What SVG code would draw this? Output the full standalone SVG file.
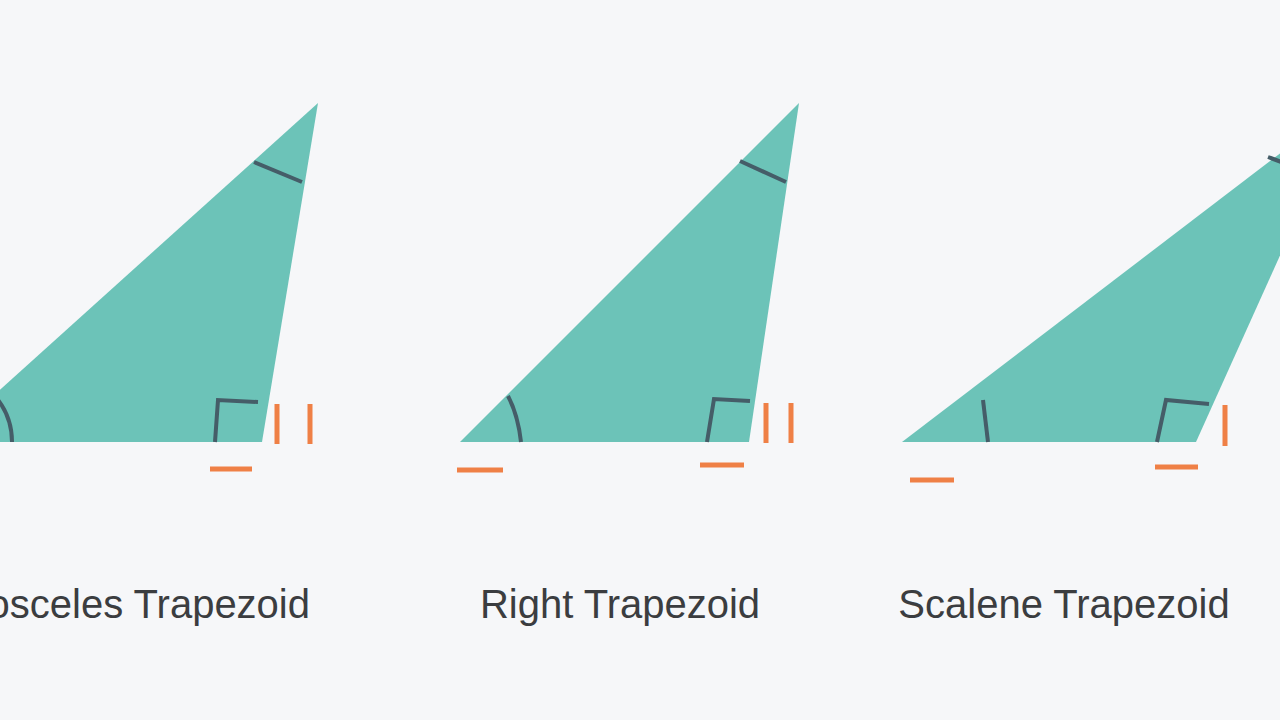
<svg xmlns="http://www.w3.org/2000/svg" width="1280" height="720" viewBox="0 0 1280 720">
  <style>
    .shape { fill: #6cc3b8; }
    .mark { fill: none; stroke: #455d68; stroke-width: 4; stroke-linecap: butt; stroke-linejoin: miter; }
    .tick { fill: none; stroke: #ef8046; stroke-width: 5; }
    .label { font-family: "Liberation Sans", Arial, sans-serif; font-size: 40px; fill: #3b3d40; }
  </style>
  <rect width="1280" height="720" fill="#f6f7f9"/>

  <g id="isosceles">
    <polygon class="shape" points="-58,442 318,103 262,442"/>
    <path class="mark" d="M -6 395 A 70 70 0 0 1 12 442"/>
    <path class="mark" d="M 215 442 L 218 400 L 258 402"/>
    <path class="mark" d="M 254 162 L 302 182"/>
    <path class="tick" d="M 277 404 V 444 M 310 404 V 444 M 210 469 H 252"/>
    <text class="label" x="310" y="618" text-anchor="end">Isosceles Trapezoid</text>
  </g>

  <g id="right">
    <polygon class="shape" points="460,442 799,103 749,442"/>
    <path class="mark" d="M 508 396 Q 518 415 521 442"/>
    <path class="mark" d="M 707 442 L 714 399 L 750 401"/>
    <path class="mark" d="M 740 161 L 786 182"/>
    <path class="tick" d="M 766 403 V 443 M 791 403 V 443 M 700 465 H 744 M 457 470 H 503"/>
    <text class="label" x="620" y="618" text-anchor="middle">Right Trapezoid</text>
  </g>

  <g id="scalene">
    <polygon class="shape" points="902,442 1350,100 1196,442"/>
    <path class="mark" d="M 983 400 L 988 442"/>
    <path class="mark" d="M 1157 442 L 1166 400 L 1209 404"/>
    <path class="mark" d="M 1268 157 L 1292 166"/>
    <path class="tick" d="M 1225 405 V 446 M 1155 467 H 1198 M 910 480 H 954"/>
    <text class="label" x="1064" y="618" text-anchor="middle">Scalene Trapezoid</text>
  </g>

  <g id="connectors"/>
</svg>
